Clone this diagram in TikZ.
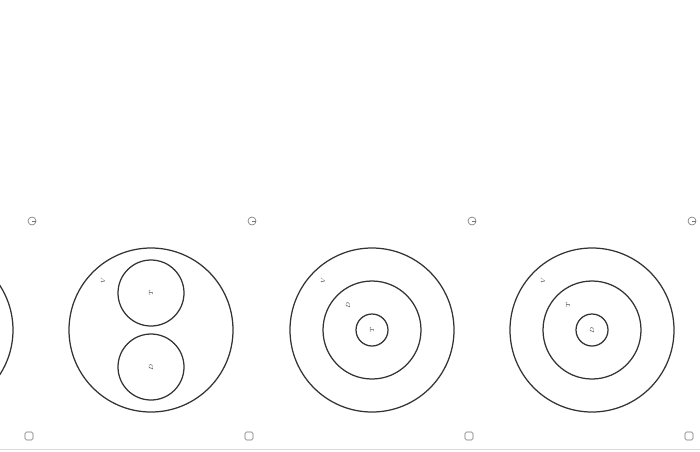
\documentclass[tikz,border=0pt]{standalone}
\usepackage{amssymb}
\usepackage{amsmath}
\usetikzlibrary{calc}

\tikzset{
  ring/.style={draw=black!80, line width=1.25pt, circle, minimum size=#1},
  setlabel/.style={rotate=90, font=\fontsize{6.5}{6.5}\selectfont, text=black!80},
  iconround/.style={draw=black!55, line width=0.6pt, circle, minimum size=8pt},
  iconsquare/.style={draw=black!55, line width=0.6pt, rounded corners=1.5pt, minimum size=8pt}
}

\begin{document}
\begin{tikzpicture}[x=1pt,y=-1pt,inner sep=0pt,outer sep=0pt]
  \useasboundingbox (0,0) rectangle (700,451);
  \clip (0,0) rectangle (700,451);
    %
  % panel icons
  \foreach \i/\px in {1/0,2/220,3/440,4/660} {
    \node[iconround] (turn\i) at (\px+32,221) {};
    \draw[black!55, line width=0.6pt] (turn\i.center) -- (turn\i.east);
    \node[iconsquare] (box\i) at (\px+29,436) {};
  }
  \draw[black!15, line width=0.8pt] (0,449.5) -- (700,449.5);

  % first panel, cut off at the left edge
  \node[ring=164pt] (v1) at (-69,330) {};

  % V holding T and D side by side
  \node[ring=164pt] (v2) at (151,330) {};
  \node[ring=66pt] (t2) at (151,293) {};
  \node[ring=66pt] (d2) at (151,367) {};
  \node[setlabel] (vl2) at ($(v2)+(-48,-49)$) {$V$};
  \node[setlabel] at (t2) {$T$};
  \node[setlabel] at (d2) {$D$};

  % V contains D contains T
  \node[ring=164pt] (v3) at (372,330) {};
  \node[ring=98pt] (d3) at (372,330) {};
  \node[ring=32pt] (t3) at (372,330) {};
  \node[setlabel] (vl3) at ($(v3)+(-49,-49)$) {$V$};
  \node[setlabel] (dl3) at ($(v3)+(-24,-25)$) {$D$};
  \node[setlabel] at (t3) {$T$};

  % V contains T contains D
  \node[ring=164pt] (v4) at (592,330) {};
  \node[ring=98pt] (t4) at (592,330) {};
  \node[ring=32pt] (d4) at (592,330) {};
  \node[setlabel] (vl4) at ($(v4)+(-49,-49)$) {$V$};
  \node[setlabel] (tl4) at ($(v4)+(-24,-25)$) {$T$};
  \node[setlabel] at (d4) {$D$};

\end{tikzpicture}
\end{document}
